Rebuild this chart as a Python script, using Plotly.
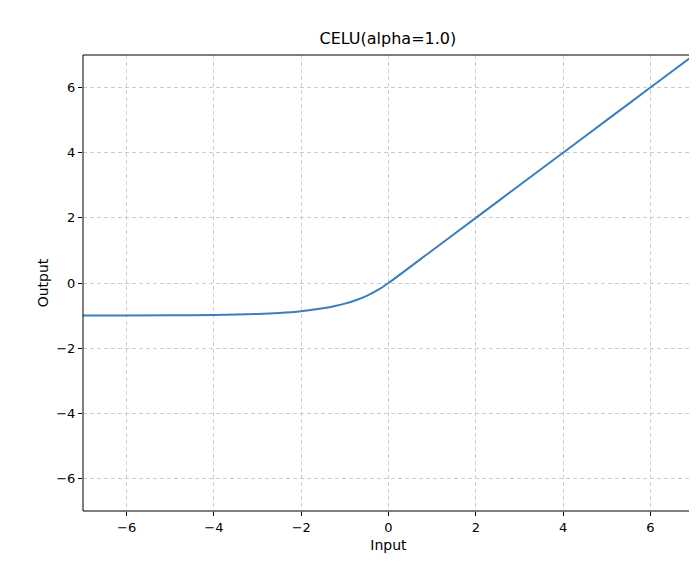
import plotly.graph_objects as go

# points
x_vals = [-7, -6, -5, -4, -3, -2.5, -2, -1.5, -1.25, -1, -0.75, -0.5, -0.25, 0, 1, 2, 3, 4, 5, 6, 7]
y_vals = [-0.999, -0.998, -0.993, -0.982, -0.95, -0.918, -0.865, -0.777, -0.713, -0.632, -0.528,
          -0.393, -0.221, 0, 1, 2, 3, 4, 5, 6, 7]
tick_vals = [-6, -4, -2, 0, 2, 4, 6]
tick_text = ["\u22126", "\u22124", "\u22122", "0", "2", "4", "6"]

fig = go.Figure(go.Scatter(x=x_vals, y=y_vals, mode="lines", line=dict(color="#3a7fbd", width=2, shape="spline")))

axis = dict(range=[-7, 7], tickvals=tick_vals, ticktext=tick_text, showgrid=True,
            gridcolor="#cccccc", griddash="4px,3px", gridwidth=1, zeroline=False,
            showline=False, ticks="outside", ticklen=4, tickcolor="black",
            tickfont=dict(size=13, color="black"))

fig.add_shape(type="rect", xref="paper", yref="paper", x0=0, y0=0, x1=1, y1=1,
              line=dict(color="black", width=1), layer="above")

fig.update_layout(
    width=697, height=562,
    margin=dict(l=75, r=11, t=47, b=59, autoexpand=False),
    paper_bgcolor="white", plot_bgcolor="white",
    font=dict(family="DejaVu Sans", size=13, color="black"),
    title=dict(text="CELU(alpha=1.0)", x=0.545, xanchor="center", y=0.955, font=dict(size=16)),
    xaxis=dict(axis, title=dict(text="Input", standoff=6, font=dict(size=14))),
    yaxis=dict(axis, title=dict(text="Output", standoff=4, font=dict(size=14))),
    showlegend=False,
)

fig.write_html("out.html")
